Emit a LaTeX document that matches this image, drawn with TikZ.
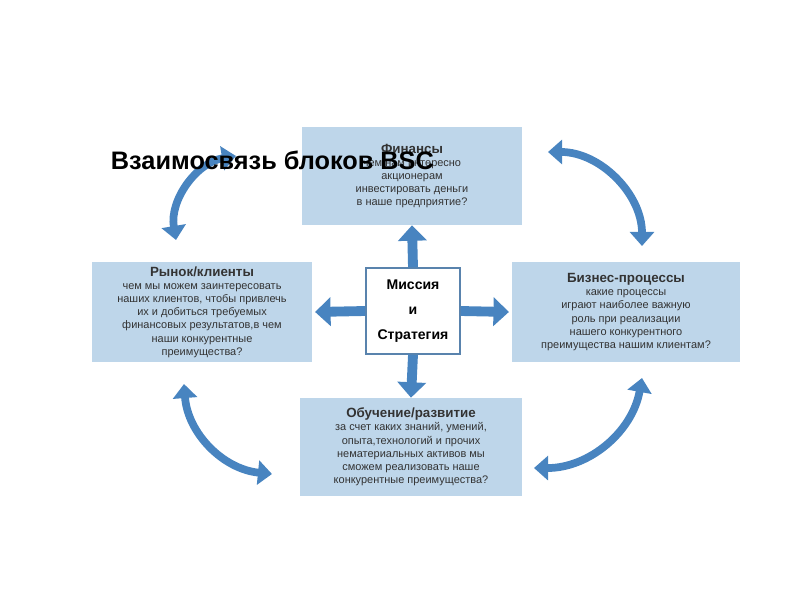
\documentclass[tikz,border=0pt]{standalone}
\usepackage{fontspec}
\setmainfont{Liberation Sans}
\usetikzlibrary{arrows.meta}
\definecolor{boxblue}{RGB}{190,214,234}
\definecolor{arrblue}{RGB}{72,132,192}
\tikzset{
  block/.style={fill=boxblue, minimum width=5.5cm, minimum height=2.45cm, align=center,
    font=\fontsize{7.8}{9.4}\selectfont, text=black!80},
  core/.style={draw=arrblue!70!gray, line width=1pt, fill=white, minimum width=2.35cm,
    minimum height=2.15cm, align=center, font=\bfseries\fontsize{10}{18}\selectfont},
  bigarrow/.style={arrblue, line width=7pt, -{Triangle[width=20pt,length=11pt]}},
  twoway/.style={arrblue, line width=5.5pt, {Triangle[width=17pt,length=10pt]}-{Triangle[width=17pt,length=10pt]}}
}
\begin{document}
\begin{tikzpicture}
  \useasboundingbox (0,0) rectangle (20,15);
  \node[block] (fin) at (10.3,10.6) {{\bfseries\fontsize{9.5}{11.5}\selectfont Финансы}\\чем нам интересно\\акционерам\\инвестировать деньги\\в наше предприятие?};
  \node[block, minimum width=5.5cm, minimum height=2.5cm] (mkt) at (5.05,7.2) {{\bfseries\fontsize{9.5}{11.5}\selectfont Рынок/клиенты}\\чем мы можем заинтересовать\\наших клиентов, чтобы привлечь\\их и добиться требуемых\\финансовых результатов,в чем\\наши конкурентные\\преимущества?};
  \node[block, minimum width=5.7cm, minimum height=2.5cm] (proc) at (15.65,7.2) {{\bfseries\fontsize{9.5}{11.5}\selectfont Бизнес-процессы}\\какие процессы\\играют наиболее важную\\роль при реализации\\нашего конкурентного\\преимущества нашим клиентам?};
  \node[block, minimum width=5.55cm] (learn) at (10.275,3.825) {{\bfseries\fontsize{9.5}{11.5}\selectfont Обучение/развитие}\\за счет каких знаний, умений,\\опыта,технологий и прочих\\нематериальных активов мы\\сможем реализовать наше\\конкурентные преимущества?};
  \node[core] (mis) at (10.325,7.225) {Миссия\\и\\Стратегия};

  \draw[bigarrow] (mis.north) -- (fin.south);
  \draw[bigarrow] (mis.west) -- ([xshift=2pt]mkt.east);
  \draw[bigarrow] (mis.east) -- ([xshift=-2pt]proc.west);
  \draw[bigarrow] (mis.south) -- (learn.north);

  \draw[twoway] (4.4,9) to[bend left=45] (5.9,11.1);
  \draw[twoway] (13.7,11.2) to[bend left=45] (16.05,8.85);
  \draw[twoway] (4.6,5.4) to[bend right=40] (6.8,3.15);
  \draw[twoway] (13.35,3.3) to[bend right=40] (16.05,5.55);

  \node[font=\bfseries\fontsize{18}{20}\selectfont, anchor=west] (title) at (2.65,11.0) {Взаимосвязь блоков BSC};
\end{tikzpicture}
\end{document}
